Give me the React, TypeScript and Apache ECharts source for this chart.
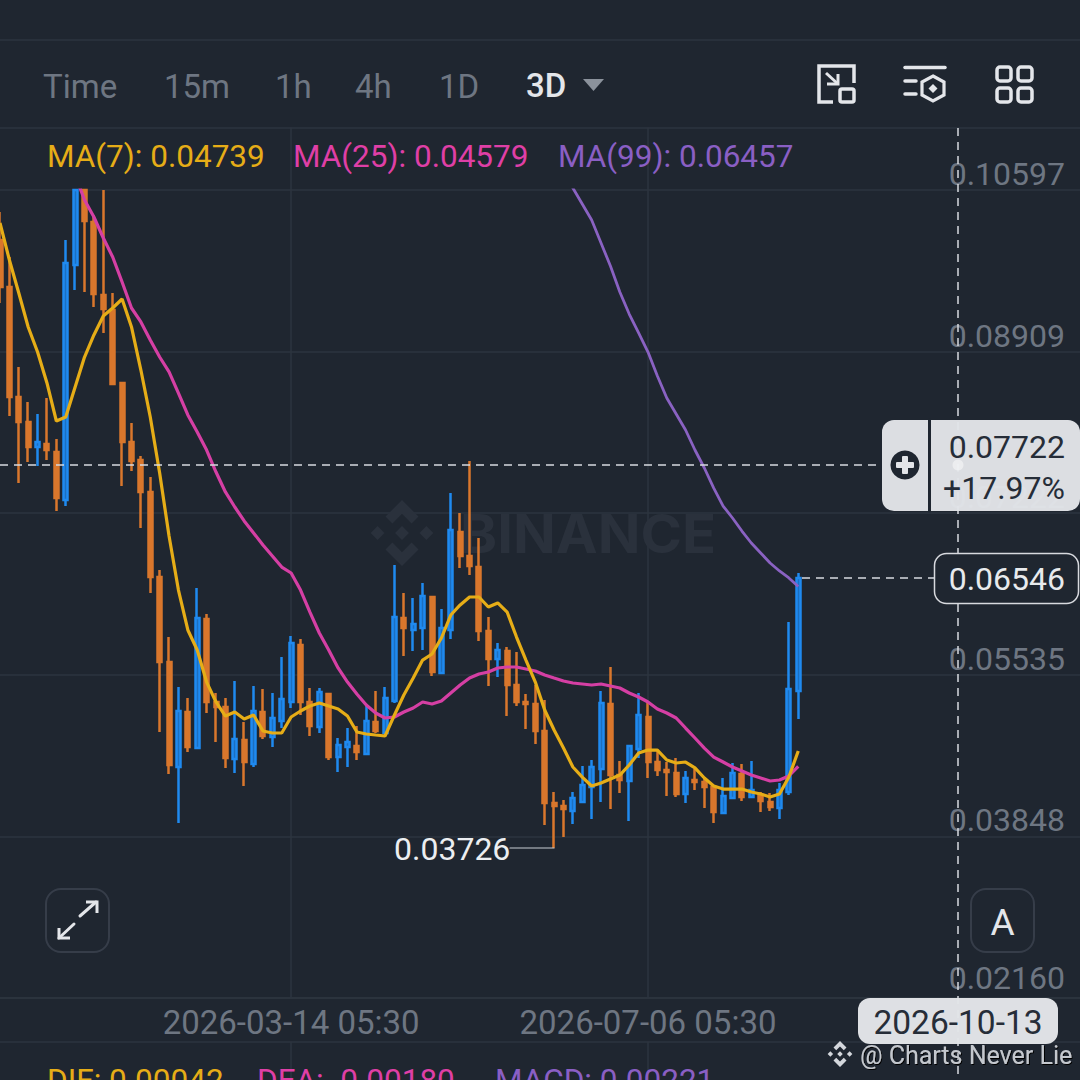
import React, { useEffect, useRef } from "react";
import * as echarts from "echarts";

const BG = "#1f2630";
const GRIDC = "#2d343f";
const AXISTEXT = "#6e7682";
const FONT = "Roboto";

const opens = [
  0.10075, 0.09584, 0.08435, 0.08174, 0.07914, 0.07945, 0.07861, 0.0736, 0.09814, 0.10597,
  0.10263, 0.095, 0.09344, 0.08582, 0.07966, 0.07778, 0.07444, 0.06556, 0.05668, 0.04572,
  0.05146, 0.0477, 0.06117, 0.05251, 0.05199, 0.04655, 0.04854, 0.04603, 0.05146, 0.04885,
  0.05052, 0.05251, 0.05846, 0.05251, 0.0499, 0.05334, 0.04676, 0.04781, 0.04791, 0.04708,
  0.05042, 0.04927, 0.05261, 0.06128, 0.06003, 0.06024, 0.06347, 0.05554, 0.06003, 0.07026,
  0.06775, 0.0666, 0.05992, 0.057, 0.05783, 0.05428, 0.05251, 0.0523, 0.04948, 0.04196,
  0.04165, 0.04113, 0.04207, 0.04363, 0.04551, 0.0523, 0.04488, 0.04426, 0.0476, 0.05094,
  0.04624, 0.04541, 0.04509, 0.0429, 0.04436, 0.04415, 0.04363, 0.04092, 0.04248, 0.04499,
  0.04259, 0.0428, 0.04207, 0.04144, 0.04311, 0.05366,
];
const closes = [
  0.09584, 0.08435, 0.08174, 0.07914, 0.07966, 0.07882, 0.07381, 0.09835, 0.10597, 0.10274,
  0.09511, 0.09354, 0.08571, 0.07966, 0.07767, 0.07444, 0.06556, 0.05668, 0.04593, 0.05157,
  0.04781, 0.06128, 0.05251, 0.05199, 0.04666, 0.04864, 0.04624, 0.05157, 0.04896, 0.05084,
  0.05282, 0.05867, 0.05251, 0.05, 0.05355, 0.04676, 0.04802, 0.04833, 0.04728, 0.05052,
  0.04948, 0.05293, 0.06138, 0.06024, 0.06065, 0.06358, 0.05564, 0.06024, 0.07047, 0.06775,
  0.06671, 0.05992, 0.057, 0.05794, 0.05428, 0.05251, 0.0523, 0.04948, 0.04196, 0.04165,
  0.04133, 0.04248, 0.04384, 0.04572, 0.0524, 0.04488, 0.04436, 0.04791, 0.05115, 0.04624,
  0.04541, 0.0452, 0.0429, 0.04457, 0.04415, 0.04363, 0.04102, 0.04269, 0.04509, 0.04259,
  0.04332, 0.04217, 0.04154, 0.04332, 0.05387, 0.06546,
];
const lows = [
  0.09417, 0.08237, 0.07538, 0.07757, 0.07715, 0.07778, 0.07245, 0.07297, 0.09553, 0.09532,
  0.09375, 0.09104, 0.08561, 0.07506, 0.07663, 0.07068, 0.06389, 0.04937, 0.04499, 0.03988,
  0.04728, 0.0476, 0.05136, 0.04833, 0.04562, 0.04509, 0.04374, 0.04572, 0.04864, 0.04781,
  0.04979, 0.05188, 0.05115, 0.04896, 0.04927, 0.04645, 0.0452, 0.04572, 0.04645, 0.04698,
  0.04927, 0.04917, 0.0524, 0.05731, 0.05783, 0.05794, 0.05522, 0.05543, 0.05909, 0.0665,
  0.06577, 0.05888, 0.05418, 0.05512, 0.05104, 0.05209, 0.04969, 0.04812, 0.03966, 0.03726,
  0.03841, 0.03977, 0.04196, 0.04029, 0.04207, 0.04133, 0.043, 0.04008, 0.04666, 0.04457,
  0.04478, 0.04269, 0.04259, 0.04196, 0.04332, 0.04144, 0.03988, 0.04081, 0.04238, 0.04217,
  0.04248, 0.04102, 0.04113, 0.04029, 0.0428, 0.05073,
];
const highs = [
  0.10367, 0.09897, 0.08748, 0.08383, 0.08258, 0.08425, 0.07997, 0.10075, 0.10597, 0.10597,
  0.10336, 0.10597, 0.09522, 0.08592, 0.08164, 0.07819, 0.076, 0.06629, 0.05929, 0.05407,
  0.05293, 0.06441, 0.0617, 0.05345, 0.05293, 0.0547, 0.05042, 0.05418, 0.05387, 0.05345,
  0.0572, 0.0594, 0.05909, 0.05397, 0.05397, 0.05345, 0.04875, 0.04979, 0.05, 0.05219,
  0.05366, 0.05407, 0.06681, 0.06389, 0.06337, 0.06493, 0.06358, 0.06222, 0.07433, 0.07224,
  0.07767, 0.06963, 0.06138, 0.05867, 0.05825, 0.05773, 0.05334, 0.05428, 0.05272, 0.04311,
  0.04228, 0.04311, 0.04582, 0.04645, 0.05366, 0.05616, 0.04635, 0.04802, 0.05345, 0.05251,
  0.04749, 0.04624, 0.04666, 0.0453, 0.04551, 0.04467, 0.04384, 0.04457, 0.04613, 0.04603,
  0.04635, 0.04311, 0.043, 0.04405, 0.06086, 0.06598,
];
const ma7 = [
  0.10253, 0.09866, 0.09522, 0.09167, 0.08905, 0.08582, 0.08185, 0.08227, 0.0854, 0.08853,
  0.09083, 0.09281, 0.09365, 0.09459, 0.09167, 0.08717, 0.08227, 0.07642, 0.06984, 0.0642,
  0.06003, 0.05794, 0.05459, 0.05251, 0.05104, 0.05146, 0.05073, 0.05115, 0.04948, 0.04927,
  0.04927, 0.05094, 0.05157, 0.05209, 0.0524, 0.05209, 0.05178, 0.05104, 0.04938, 0.04917,
  0.04906, 0.04896, 0.05115, 0.05324, 0.05501, 0.05689, 0.05752, 0.05919, 0.06159, 0.06264,
  0.06347, 0.06347, 0.06243, 0.06285, 0.0619, 0.05929, 0.05689, 0.05459, 0.05167, 0.04958,
  0.0477, 0.04572, 0.04467, 0.04374, 0.04405, 0.04447, 0.04488, 0.04593, 0.04718, 0.04749,
  0.04749, 0.04645, 0.04614, 0.04624, 0.04562, 0.04457, 0.04374, 0.04342, 0.04342, 0.04342,
  0.04311, 0.0429, 0.04259, 0.0429, 0.04467, 0.04739,
];
const ma25 = [
  null, null, null, null, null, null, null, null, 0.10754, 0.10493,
  0.10315, 0.10096, 0.09897, 0.09636, 0.09365, 0.09219, 0.09031, 0.08853, 0.08697, 0.08477,
  0.08248, 0.0807, 0.07882, 0.07652, 0.07444, 0.07287, 0.07141, 0.07016, 0.0689, 0.06775,
  0.0666, 0.06598, 0.0642, 0.0619, 0.05971, 0.05794, 0.05606, 0.05459, 0.05334, 0.05219,
  0.05136, 0.05084, 0.05094, 0.05146, 0.05188, 0.05251, 0.0523, 0.05261, 0.05345, 0.05428,
  0.05501, 0.05543, 0.05564, 0.05606, 0.05616, 0.05616, 0.05595, 0.05574, 0.05533, 0.05501,
  0.0547, 0.05449, 0.05439, 0.05428, 0.05439, 0.05418, 0.05397, 0.05345, 0.05303, 0.05251,
  0.05178, 0.05136, 0.05084, 0.04979, 0.04875, 0.0477, 0.04676, 0.04624, 0.04572, 0.0453,
  0.04488, 0.04457, 0.04426, 0.04436, 0.04478, 0.04579,
];
const ma99 = [
  ...new Array(60).fill(null),
  0.10785, 0.10618, 0.10451, 0.10284, 0.10044, 0.09803, 0.09532, 0.09302, 0.09104, 0.08905,
  0.08655, 0.08425, 0.08258, 0.08091, 0.07882, 0.07694, 0.07485, 0.07297, 0.07172, 0.07036,
  0.06911, 0.06807, 0.06702, 0.06619, 0.06546, 0.06457,
];
const priceTicks = [0.0216, 0.03848, 0.05535, 0.07222, 0.08909, 0.10597];
const tickFormat = ["{low|0.02160}", "0.03848", "0.05535", "0.07222", "0.08909", "0.10597"];
const labelledIdx = [31, 69];

const categories: string[] = [];
for (let i = 0; i < 116; i++) {
  const d = new Date(Date.UTC(2025, 11, 11 + i * 3));
  categories.push(d.toISOString().slice(0, 10) + " 05:30");
}

const candleData = opens.map((o, i) => [o, closes[i], lows[i], highs[i]]);

function txt(text: string, x: number, y: number, fill: string, size = 32, align = "left", weight = "400", extra: any = {}) {
  return {
    type: "text",
    z: 100,
    silent: true,
    style: { text, x, y, fill, font: `${weight} ${size}px ${FONT}`, textAlign: align, textVerticalAlign: "middle", ...extra },
  };
}
function ln(x1: number, y1: number, x2: number, y2: number, stroke: string, lineWidth = 1.5, dash?: number[], z = 50) {
  return {
    type: "line",
    z,
    silent: true,
    shape: { x1, y1, x2, y2 },
    style: { stroke, lineWidth, lineDash: dash, lineCap: dash ? "butt" : "round" },
  };
}
function box(x: number, y: number, width: number, height: number, r: number, fill: string, stroke?: string, lineWidth = 1.5, z = 100) {
  return {
    type: "rect",
    z,
    silent: true,
    shape: { x, y, width, height, r },
    style: { fill, stroke, lineWidth },
  };
}
function poly(points: number[][], fill: string, z: number) {
  return { type: "polygon", z, silent: true, shape: { points }, style: { fill } };
}
function logo(cx: number, cy: number, s: number, fill: string, z: number) {
  const d = (x: number, y: number, h: number) =>
    poly([[cx + x * s, cy + (y - h) * s], [cx + (x + h) * s, cy + y * s], [cx + x * s, cy + (y + h) * s], [cx + (x - h) * s, cy + y * s]], fill, z);
  const chev = (k: number) =>
    poly(
      [[0, -1], [0.5, -0.5], [0.29, -0.29], [0, -0.58], [-0.29, -0.29], [-0.5, -0.5]].map(([a, b]) => [cx + a * s, cy + k * b * s]),
      fill,
      z,
    );
  return [d(0, 0, 0.21), d(-0.74, 0, 0.21), d(0.74, 0, 0.21), chev(1), chev(-1)];
}

function chrome(): any[] {
  const W = "#e4e6ea";
  const items: any[] = [];
  // frame lines
  items.push(ln(0, 40, 1080, 40, GRIDC, 1.5, undefined, 1));
  items.push(ln(0, 128, 1080, 128, GRIDC, 1.5, undefined, 1));
  items.push(ln(0, 1042, 1080, 1042, GRIDC, 1.5, undefined, 1));
  [291, 648].forEach((x) => {
    items.push(ln(x, 128, x, 190, GRIDC, 1.5, undefined, 1));
    items.push(ln(x, 1042, x, 1080, GRIDC, 1.5, undefined, 1));
  });
  // watermark
  logo(402, 533, 33, "#2a313c", 1).forEach((e) => items.push(e));
  items.push({
    type: "text",
    z: 1,
    silent: true,
    x: 460,
    y: 534,
    scaleX: 1.06,
    style: { text: "BINANCE", x: 0, y: 0, fill: "#2a313c", font: `700 53px Inter`, textAlign: "left", textVerticalAlign: "middle" },
  });
  // toolbar
  const G = "#6e7682";
  items.push(txt("Time", 43, 86, G, 33));
  items.push(txt("15m", 164, 86, G, 33));
  items.push(txt("1h", 275, 86, G, 33));
  items.push(txt("4h", 355, 86, G, 33));
  items.push(txt("1D", 439, 86, G, 33));
  items.push(txt("3D", 526, 85, W, 33, "left", "500"));
  items.push(poly([[583, 79], [604, 79], [593.5, 91]], "#8b929c", 100));
  // icon 1
  items.push({ type: "polyline", z: 100, silent: true, shape: { points: [[833, 102], [819, 102], [819, 66], [854, 66], [854, 83]] }, style: { stroke: W, lineWidth: 3.5, fill: "none" } });
  items.push(box(840, 89, 14, 13, 2, "none", W, 3.5));
  items.push({ type: "polyline", z: 100, silent: true, shape: { points: [[826, 73], [838, 84]] }, style: { stroke: W, lineWidth: 3, fill: "none" } });
  items.push({ type: "polyline", z: 100, silent: true, shape: { points: [[827, 84], [838, 84], [838, 74]] }, style: { stroke: W, lineWidth: 3, fill: "none" } });
  // icon 2
  items.push(ln(905, 67.5, 945, 67.5, W, 3.5, undefined, 100));
  items.push(ln(905, 81, 916, 81, W, 3.5, undefined, 100));
  items.push(ln(905, 94, 916, 94, W, 3.5, undefined, 100));
  items.push({ type: "polygon", z: 100, silent: true, shape: { points: [[933, 76], [944, 82], [944, 95], [933, 101], [922, 95], [922, 82]] }, style: { stroke: W, lineWidth: 3.2, fill: "none" } });
  items.push(poly([[933, 84], [937.5, 88.5], [933, 93], [928.5, 88.5]], W, 100));
  // icon 3
  [[997, 67], [1018, 67], [997, 88], [1018, 88]].forEach(([x, y]) => items.push(box(x, y, 14, 14, 3, "none", W, 3.5)));
  // legend
  items.push(txt("MA(7): 0.04739", 47, 156, "#e6ad17", 31.5));
  items.push(txt("MA(25): 0.04579", 293, 156, "#df3fa6", 31.5));
  items.push(txt("MA(99): 0.06457", 558, 156, "#8a5fc4", 31.5));
  // crosshair
  items.push(ln(0, 465, 882, 465, "#d8dadf", 1.5, [8, 6], 50));
  items.push(ln(958, 128, 958, 1080, "#d8dadf", 1.5, [8, 6], 50));
  // current price dashed
  items.push(ln(802, 578, 934, 578, "#d8dadf", 1.5, [8, 6], 50));
  items.push(box(934.5, 553.5, 144, 50, 12, BG, "#d8dadf", 1.5, 60));
  items.push(txt("0.06546", 1065, 579, "#e8eaed", 32, "right"));
  // crosshair price box
  items.push(box(882, 420, 198, 91, 12, "rgba(226,228,232,0.97)", undefined, 0, 70));
  items.push(ln(929.5, 420, 929.5, 511, BG, 3, undefined, 100));
  items.push({ type: "circle", z: 100, silent: true, shape: { cx: 905, cy: 465, r: 14.5 }, style: { fill: BG } });
  items.push(box(896, 462, 18, 6, 1, "#e2e4e8", undefined, 0, 101));
  items.push(box(902, 456, 6, 18, 1, "#e2e4e8", undefined, 0, 101));
  items.push(txt("0.07722", 1065, 447, "#262d38", 32, "right"));
  items.push(txt("+17.97%", 1065, 488, "#262d38", 32, "right"));
  items.push({ type: "circle", z: 100, silent: true, shape: { cx: 958, cy: 465, r: 5.5 }, style: { fill: "rgba(255,255,255,0.45)" } });
  // low label
  items.push(txt("0.03726", 394, 849, "#eceef1", 32));
  items.push(ln(510, 848, 554, 848, "#c8ccd2", 1.2, undefined, 50));
  // expand button
  items.push(box(46, 889, 63, 63, 15, BG, "#363d49", 2));
  items.push(ln(80, 916, 96, 902, W, 3, undefined, 100));
  items.push({ type: "polyline", z: 100, silent: true, shape: { points: [[86, 902], [97, 902], [97, 913]] }, style: { stroke: W, lineWidth: 3, fill: "none" } });
  items.push(ln(74, 924, 59, 938, W, 3, undefined, 100));
  items.push({ type: "polyline", z: 100, silent: true, shape: { points: [[59, 928], [59, 938], [70, 938]] }, style: { stroke: W, lineWidth: 3, fill: "none" } });
  // A button
  items.push(box(971, 889, 63, 63, 15, BG, "#363d49", 2));
  items.push(txt("A", 1002.5, 922, W, 37, "center"));
  // date box
  items.push(box(858, 998, 200, 46, 12, "rgba(226,228,232,0.98)", undefined, 0, 70));
  items.push(txt("2026-10-13", 958, 1022, "#262d38", 33.5, "center"));
  // credit
  logo(840, 1054, 13, "#d4d7dc", 100).forEach((e) => items.push(e));
  items.push(txt("@ Charts Never Lie", 860, 1055, "#c4c8ce", 25, "left", "400", { textShadowColor: "#000", textShadowBlur: 1, textShadowOffsetX: 1, textShadowOffsetY: 1 }));
  // MACD legend
  items.push(txt("DIF: 0.00042", 47, 1080, "#e6ad17", 31.5));
  items.push(txt("DEA: -0.00180", 257, 1080, "#df3fa6", 31.5));
  items.push(txt("MACD: 0.00221", 495, 1080, "#8a5fc4", 31.5));
  return items;
}

export default function App() {
  const ref = useRef<HTMLDivElement>(null);
  useEffect(() => {
    document.body.style.margin = "0";
    document.body.style.background = BG;
    const chart = echarts.init(ref.current!, undefined, { renderer: "svg" });
    const isLabelled = (i: number) => labelledIdx.includes(i);
    chart.setOption({
      animation: false,
      backgroundColor: BG,
      grid: { left: 0, top: 190, width: 1080, height: 808, containLabel: false },
      xAxis: {
        type: "category",
        data: categories,
        boundaryGap: false,
        axisLine: { show: true, lineStyle: { color: GRIDC, width: 1.5 } },
        axisTick: { show: false },
        axisLabel: {
          interval: (i: number) => isLabelled(i),
          color: AXISTEXT,
          fontFamily: FONT,
          fontSize: 33,
          margin: 8,
          hideOverlap: false,
        },
        splitLine: { show: true, interval: (i: number) => isLabelled(i), lineStyle: { color: GRIDC, width: 1.5 } },
      },
      yAxis: {
        type: "value",
        position: "right",
        min: priceTicks[0],
        max: priceTicks[priceTicks.length - 1],
        axisLine: { show: false },
        axisTick: { show: false, customValues: priceTicks },
        axisLabel: {
          inside: true,
          margin: 15,
          customValues: priceTicks,
          formatter: (v: number) => {
            const k = priceTicks.findIndex((t) => Math.abs(t - v) < 1e-6);
            return k >= 0 ? tickFormat[k] : String(v);
          },
          color: AXISTEXT,
          fontFamily: FONT,
          fontSize: 32,
          verticalAlign: "bottom",
          rich: { low: { color: AXISTEXT, fontFamily: FONT, fontSize: 32, padding: [0, 0, 4, 0] } },
        },
        splitLine: { show: true, lineStyle: { color: GRIDC, width: 1.5 } },
      },
      series: [
        {
          type: "candlestick",
          data: candleData,
          barWidth: 4.5,
          clip: true,
          itemStyle: {
            color: "#1c6fc0",
            color0: "#d9772c",
            borderColor: "#1f8af0",
            borderColor0: "#d9772c",
            borderWidth: 2.5,
          },
        },
        { type: "line", data: ma99, showSymbol: false, clip: true, lineStyle: { color: "#8a62c2", width: 2.8 } },
        { type: "line", data: ma25, showSymbol: false, clip: true, lineStyle: { color: "#d53fa4", width: 3.2 } },
        { type: "line", data: ma7, showSymbol: false, clip: true, lineStyle: { color: "#e6ad17", width: 3.2 } },
      ],
      graphic: { elements: chrome() },
    });
    return () => chart.dispose();
  }, []);
  return <div ref={ref} style={{ position: "absolute", left: 0, top: 0, width: 1080, height: 1080 }} />;
}
